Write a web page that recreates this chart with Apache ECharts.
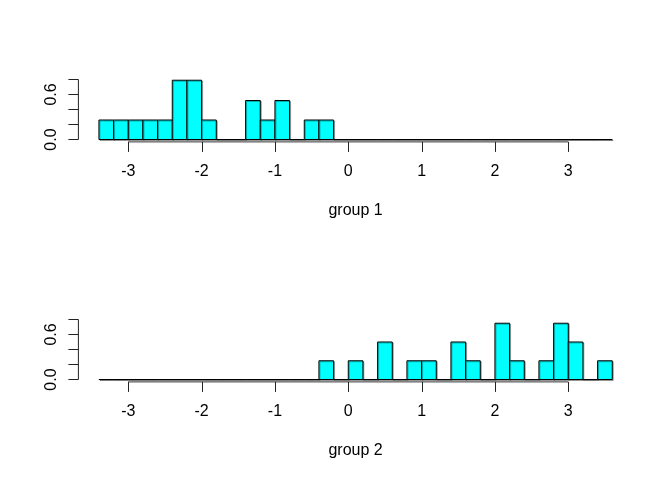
<!DOCTYPE html>
<html>
<head>
<meta charset="utf-8">
<script src="https://cdn.jsdelivr.net/npm/echarts@6/dist/echarts.min.js"></script>
<style>
html, body { margin: 0; padding: 0; background: #fff; }
#hist_chart_id { width: 672px; height: 480px; }
</style>
</head>
<body>
<div id="hist_chart_id"></div>
<script>
// bin edges (width 0.2)
var breaks = [-3.4, -3.2, -3.0, -2.8, -2.6, -2.4, -2.2, -2.0, -1.8, -1.6, -1.4, -1.2,
	-1.0, -0.8, -0.6, -0.4, -0.2, 0.0, 0.2, 0.4, 0.6, 0.8, 1.0, 1.2, 1.4, 1.6, 1.8,
	2.0, 2.2, 2.4, 2.6, 2.8, 3.0, 3.2, 3.4, 3.6];
// density per bin
var group1_density = [0.26, 0.26, 0.26, 0.26, 0.26, 0.79, 0.79, 0.26, 0, 0,
	0.52, 0.26, 0.52, 0, 0.26, 0.26, 0, 0, 0, 0, 0, 0, 0, 0, 0, 0, 0, 0, 0, 0,
	0, 0, 0, 0, 0];
var group2_density = [0, 0, 0, 0, 0, 0, 0, 0, 0, 0, 0, 0, 0, 0, 0,
	0.25, 0, 0.25, 0, 0.5, 0, 0.25, 0.25, 0, 0.5, 0.25, 0, 0.75, 0.25, 0,
	0.25, 0.75, 0.5, 0, 0.25];
var group_names = ['group 1', 'group 2'];
var x_ticks = [-3, -2, -1, 0, 1, 2, 3];
var y_ticks = [0, 0.2, 0.4, 0.6, 0.8];
var y_labels = [0, 0.6];

var x_min = -3.68, x_max = 3.88;
var y_min = -0.0316, y_max = 0.821;
var font = "'Liberation Sans', Arial, Helvetica, sans-serif";

function binData(dens) {
	var d = [];
	for (var i = 0; i < dens.length; i++) {
		d.push([breaks[i], breaks[i + 1], dens[i]]);
	}
	return d;
}

function renderBin(params, api) {
	var p0 = api.coord([api.value(0), api.value(2)]);
	var p1 = api.coord([api.value(1), 0]);
	return {
		type : 'rect',
		shape : { x : p0[0], y : p0[1], width : p1[0] - p0[0], height : p1[1] - p0[1] },
		style : {
			fill : '#00ffff', stroke : '#000', lineWidth : 1,
			shadowColor : 'rgba(0,0,0,0.3)', shadowOffsetX : 1, shadowOffsetY : 1, shadowBlur : 0
		}
	};
}

function segment(g, a, b, color) {
	return {
		type : 'line', xAxisIndex : g, yAxisIndex : g, symbol : 'none', clip : false, silent : true,
		lineStyle : { color : color, width : 1 },
		data : [a, b]
	};
}

var myChart = echarts.init(document.getElementById('hist_chart_id'));

var grids = [], xAxes = [], yAxes = [], series = [];
var tops = [77.9, 317.9];
var dens_list = [group1_density, group2_density];
for (var g = 0; g < 2; g++) {
	grids.push({ left : 78.4, right : 39.2, top : tops[g], height : 64 });
	xAxes.push({
		type : 'value', gridIndex : g, min : x_min, max : x_max,
		name : group_names[g], nameLocation : 'middle', nameGap : 61,
		nameTextStyle : { color : '#000', fontSize : 16, fontFamily : font },
		axisLine : { show : false, onZero : false },
		splitLine : { show : false },
		axisTick : { show : false },
		axisLabel : { customValues : x_ticks, margin : 22, color : '#000', fontSize : 16, fontFamily : font }
	});
	yAxes.push({
		type : 'value', gridIndex : g, min : y_min, max : y_max,
		axisLine : { show : false, onZero : false },
		splitLine : { show : false },
		axisTick : { show : true, customValues : y_ticks, length : 10, lineStyle : { color : '#222' } },
		axisLabel : {
			customValues : y_labels, rotate : 90, margin : 19, color : '#000', fontSize : 16, fontFamily : font,
			formatter : function(v) { return v.toFixed(1); }
		}
	});
	series.push({
		type : 'custom', xAxisIndex : g, yAxisIndex : g,
		renderItem : renderBin, data : binData(dens_list[g]), clip : false, silent : true
	});
	// axis lines, R style (only over the tick range)
	series.push(segment(g, [x_ticks[0], y_min], [x_ticks[x_ticks.length - 1], y_min], '#333'));
	series.push(segment(g, [x_min, y_ticks[0]], [x_min, y_ticks[y_ticks.length - 1]], '#222'));
}

option = {
	backgroundColor : '#fff',
	animation : false,
	grid : grids,
	xAxis : xAxes,
	yAxis : yAxes,
	series : series
};

myChart.setOption(option);

// x ticks as graphic lines, placed with the axis scales
var tick_graphics = [];
for (var g2 = 0; g2 < 2; g2++) {
	for (var k = 0; k < x_ticks.length; k++) {
		var p = myChart.convertToPixel({ xAxisIndex : g2, yAxisIndex : g2 }, [x_ticks[k], y_min]);
		var px = Math.round(p[0]) + 0.5;
		tick_graphics.push({
			type : 'line', z : 100, silent : true,
			shape : { x1 : px, y1 : p[1], x2 : px, y2 : p[1] + 10 },
			style : { stroke : '#222', lineWidth : 1 }
		});
	}
}
myChart.setOption({ graphic : tick_graphics });
</script>
</body>
</html>
